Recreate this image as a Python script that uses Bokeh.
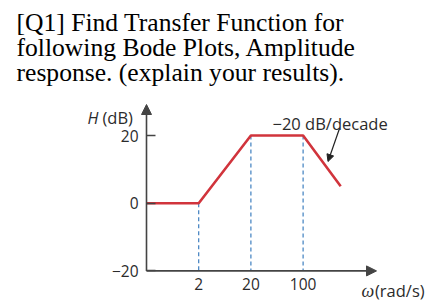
from bokeh.plotting import figure
from bokeh.models import Range1d, FixedTicker, Label, Arrow, NormalHead, LinearAxis
from bokeh.core.properties import value
from bokeh.embed import file_html
from bokeh.resources import INLINE

# ---- data ----
title_lines = ["[Q1] Find Transfer Function for",
               "following Bode Plots, Amplitude",
               "response. (explain your results)."]
omega_ticks = [1, 2, 3]
omega_labels = ["2", "20", "100"]
h_ticks = [-20, 0, 20]
h_labels = ["\u221220", "0", "20"]
bode_x = [0, 1, 2, 3, 3.72]
bode_h = [0, 0, 20, 20, 5]
slope_label = "\u221220 dB/decade"
y_name = ["H", "(dB)"]
x_name = ["\u03c9", "(rad/s)"]

# ---- geometry ----
W, H = 445, 301
X0PX, XU = 146.0, 52.2
Y0PX, YU = 202.7, 3.385


def dx(px):
    return (px - X0PX) / XU


def dy(py):
    return (Y0PX - py) / YU


p = figure(width=W, height=H, x_range=Range1d(dx(0), dx(W)),
           y_range=Range1d(dy(H), dy(0)), output_backend="svg",
           toolbar_location=None, min_border=0,
           x_axis_type=None, y_axis_type=None)
p.grid.visible = False
p.outline_line_color = None
p.background_fill_color = "white"
p.border_fill_color = "white"

TXT = "#2b2b2b"
AX = "#444444"
SANS = "Open Sans"
FS = "15.5px"
LFS = "16.5px"

yax = LinearAxis(fixed_location=0, ticker=FixedTicker(ticks=h_ticks),
                 major_label_overrides={t: l for t, l in zip(h_ticks, h_labels)},
                 major_tick_in=9, major_tick_out=0, minor_tick_in=0, minor_tick_out=0,
                 axis_line_color=None, major_tick_line_color=AX, major_tick_line_width=1.3,
                 major_label_standoff=8, major_label_text_font=SANS,
                 major_label_text_font_size=FS, major_label_text_color=TXT)
p.add_layout(yax, "left")
xax = LinearAxis(fixed_location=-20, ticker=FixedTicker(ticks=omega_ticks),
                 major_label_overrides={t: l for t, l in zip(omega_ticks, omega_labels)},
                 major_tick_in=0, major_tick_out=0, minor_tick_in=0, minor_tick_out=0,
                 axis_line_color=None, major_label_standoff=7,
                 major_label_text_font=SANS,
                 major_label_text_font_size=FS, major_label_text_color=TXT)
p.add_layout(xax, "below")

# dashed guides
tops = [bode_h[bode_x.index(t)] for t in omega_ticks]
p.segment(x0=omega_ticks, y0=tops, x1=omega_ticks, y1=[h_ticks[0]] * 3,
          line_color="#3d7ebf", line_width=1.2, line_dash="4 3")

# bode asymptote
p.line(bode_x, bode_h, line_color="#d1343c", line_width=2.6)

# axis arrows
p.add_layout(Arrow(end=NormalHead(size=10, fill_color=AX, line_color=AX),
                   x_start=0, y_start=h_ticks[0], x_end=0, y_end=dy(104),
                   line_color=AX, line_width=1.6))
p.add_layout(Arrow(end=NormalHead(size=10, fill_color=AX, line_color=AX),
                   x_start=0, y_start=h_ticks[0], x_end=dx(376), y_end=h_ticks[0],
                   line_color=AX, line_width=1.6))

# pointer arrow
p.add_layout(Arrow(end=NormalHead(size=7, fill_color="#222", line_color="#222"),
                   x_start=dx(339), y_start=dy(128), x_end=dx(327.5), y_end=dy(161),
                   line_color="#222", line_width=1.2))

# title
for i, t in enumerate(title_lines):
    p.add_layout(Label(x=16, y=H - (22 + 25 * i), x_units="screen", y_units="screen",
                       text=t, text_font="Liberation Serif", text_font_size="25.6px",
                       text_color="black", text_baseline="alphabetic"))

# annotation + axis names as text glyphs
p.text(x=[dx(272)], y=[dy(123)], text=[slope_label], text_font=value(SANS),
       text_font_size=LFS, text_color=TXT, text_baseline="alphabetic")
p.text(x=[dx(87)], y=[dy(117)], text=[y_name[0]], text_font=value(SANS),
       text_font_style="italic", text_font_size="16px", text_color=TXT,
       text_baseline="alphabetic")
p.text(x=[dx(102)], y=[dy(117)], text=[y_name[1]], text_font=value(SANS),
       text_font_size=LFS, text_color=TXT, text_baseline="alphabetic")
p.text(x=[dx(361)], y=[dy(290)], text=[x_name[0]], text_font=value("Liberation Serif"),
       text_font_style="italic", text_font_size="18px", text_color=TXT,
       text_baseline="alphabetic")
p.text(x=[dx(374.5)], y=[dy(290)], text=[x_name[1]], text_font=value(SANS),
       text_font_size=LFS, text_color=TXT, text_baseline="alphabetic")

open("out.html", "w").write(file_html(p, INLINE))
